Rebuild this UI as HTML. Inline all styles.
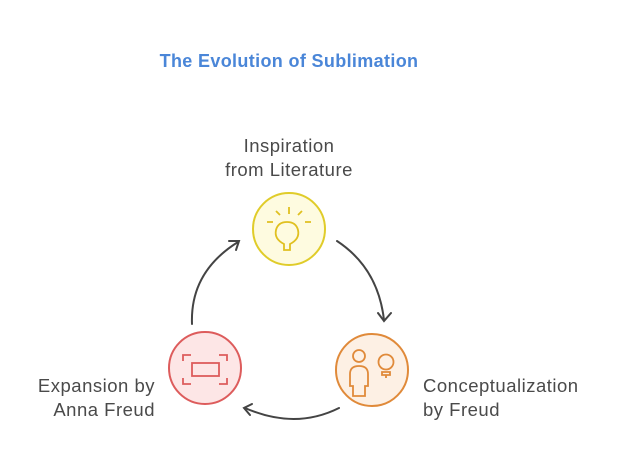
<!DOCTYPE html>
<html><head><style>
body{margin:0;width:626px;height:471px;background:#fff;overflow:hidden;font-family:"Liberation Sans",sans-serif;}
</style></head><body>
<svg width="626" height="471" viewBox="0 0 626 471" xmlns="http://www.w3.org/2000/svg" font-family="Liberation Sans, sans-serif">
<text x="289" y="67" text-anchor="middle" font-size="18" letter-spacing="0.35" font-weight="bold" fill="#4a86d8">The Evolution of Sublimation</text>
<g font-size="18.5" letter-spacing="0.5" fill="#4a4a4a">
<text x="289" y="152" text-anchor="middle">Inspiration</text>
<text x="289" y="176" text-anchor="middle">from Literature</text>
<text x="155" y="392" text-anchor="end">Expansion by</text>
<text x="155" y="416" text-anchor="end">Anna Freud</text>
<text x="423" y="392">Conceptualization</text>
<text x="423" y="416">by Freud</text>
</g>
<g fill="none" stroke="#444" stroke-width="2" stroke-linecap="round">
<path d="M337 241 Q378 268 384 320"/><path d="M378 313 L384 321 L391 313"/>
<path d="M339 408 Q295 430 245 408"/><path d="M252 404 L244 408 L250 415"/>
<path d="M192 324 Q190 272 238 242"/><path d="M229 241 L239 241 L236 250"/>
</g>
<circle cx="289" cy="229" r="36" fill="#fefbe0" stroke="#e0cc2a" stroke-width="2"/>
<g fill="none" stroke="#e0c020" stroke-width="1.8">
<path d="M284 250 v-6 q-10 -5 -8 -14 q2 -8 11 -8 q9 0 11 8 q2 9 -8 14 v6 z"/>
<path d="M289 207 v7 M276 211 l4 4 M302 211 l-4 4 M267 222 h6 M305 222 h6"/>
</g>
<circle cx="372" cy="370" r="36" fill="#fdf0e4" stroke="#e08a3a" stroke-width="2"/>
<g fill="none" stroke="#e08a3a" stroke-width="1.8">
<circle cx="359" cy="356" r="6"/>
<path d="M353 396 v-10 h-3 v-12 q0 -8 9 -8 q9 0 9 8 v12 h-3 v10 z"/>
<circle cx="386" cy="362" r="7.5"/>
<path d="M382 372 h8 v3 h-8 z M386 375 v3"/>
</g>
<circle cx="205" cy="368" r="36" fill="#fde6e6" stroke="#dd5c5c" stroke-width="2"/>
<g fill="none" stroke="#dd5c5c" stroke-width="1.8">
<rect x="192" y="363" width="27" height="13"/>
<path d="M183 361 v-6 h8 M219 355 h8 v6 M183 378 v6 h8 M219 384 h8 v-6"/>
</g>
</svg>
</body></html>
